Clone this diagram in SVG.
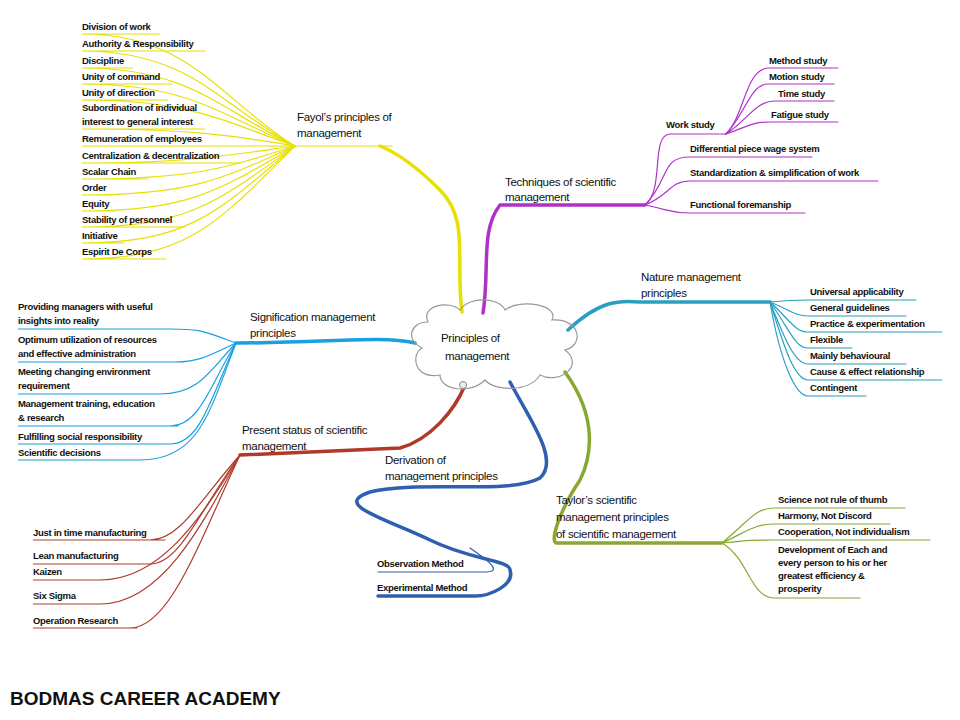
<svg xmlns="http://www.w3.org/2000/svg" width="960" height="720" viewBox="0 0 960 720">
<style>
text{font-family:"Liberation Sans",Arial,sans-serif;font-size:10px;fill:#111;letter-spacing:-0.3px}
.h{font-size:11.5px;font-weight:normal}
.i{font-weight:bold;font-size:9.5px}
path,line{fill:none;stroke-linecap:round}
.y{stroke:#e8e000}.p{stroke:#b030c8}.t{stroke:#2aa0c0}.g{stroke:#88a830}.b{stroke:#2f5fb0}.r{stroke:#b03a2a}.s{stroke:#18a0e0}
.thick{stroke-width:3.5}.thin{stroke-width:1.2}
</style>
<rect width="960" height="720" fill="#fff"/>
<g id="connectors">
<path class="y thick" d="M462,312 C455,260 470,220 440,190 C410,160 390,150 380,146"/>
<path class="y thin" d="M295,146 L392,146"/>
<g class="y thin">
<path d="M295,146 C220,100 190,34 82,34 L160,34"/>
<path d="M295,146 C220,105 190,51 82,51 L205,51"/>
<path d="M295,146 C220,110 190,68 82,68 L132,68"/>
<path d="M295,146 C220,115 190,84 82,84 L172,84"/>
<path d="M295,146 C220,120 190,100 82,100 L168,100"/>
<path d="M295,146 C230,135 190,129 82,129 L205,129"/>
<path d="M295,146 L82,146 L219,146"/>
<path d="M295,146 C230,155 190,163 82,163 L240,163"/>
<path d="M295,146 C220,170 190,179 82,179 L148,179"/>
<path d="M295,146 C220,180 190,195 82,195 L114,195"/>
<path d="M295,146 C220,190 190,211 82,211 L115,211"/>
<path d="M295,146 C220,200 190,227 82,227 L185,227"/>
<path d="M295,146 C220,210 190,243 82,243 L124,243"/>
<path d="M295,146 C220,220 190,259 82,259 L166,259"/>
</g>
<path class="p thick" d="M483,313 C490,270 480,230 500,205 L645,205"/>
<g class="p thin">
<path d="M645,205 C665,190 650,135 670,134 L726,134"/>
<path d="M645,205 C670,180 660,157 690,157 L812,157"/>
<path d="M645,205 C670,195 670,181 690,181 L878,181"/>
<path d="M645,205 C670,210 670,213 690,213 L805,213"/>
<path d="M726,134 C745,115 745,70 768,68 L838,68"/>
<path d="M726,134 C745,115 750,84 768,84 L834,84"/>
<path d="M726,134 C750,118 755,101 776,101 L834,101"/>
<path d="M726,134 C745,128 750,122 770,122 L838,122"/>
</g>
<path class="t thick" d="M568,330 C600,300 620,300 640,302 L770,302"/>
<g class="t thin">
<path d="M770,302 C790,300 795,300 808,300 L916,300"/>
<path d="M770,302 C790,310 795,316 808,316 L906,316"/>
<path d="M770,302 C790,320 795,332 808,332 L942,332"/>
<path d="M770,302 C790,330 795,348 808,348 L852,348"/>
<path d="M770,302 C785,340 795,364 808,364 L906,364"/>
<path d="M770,302 C785,350 795,380 808,380 L942,380"/>
<path d="M770,302 C780,360 795,396 808,396 L866,396"/>
</g>
<path class="g thick" d="M565,372 C600,420 590,460 580,480 C560,510 550,540 556,543 L722,543"/>
<g class="g thin">
<path d="M722,543 C750,520 755,508 775,508 L905,508"/>
<path d="M722,543 C750,530 755,524 775,524 L890,524"/>
<path d="M722,543 C750,540 755,540 775,540 L930,540"/>
<path d="M722,543 C750,560 750,598 775,598 L860,598"/>
</g>
<path class="b thick" d="M510,382 C530,420 560,460 540,478 C510,495 420,480 370,492 C330,505 390,520 430,540 C470,560 510,560 510,570 C515,585 490,596 475,596 L378,596"/>
<path class="b thin" d="M470,548 C495,565 500,572 485,572 L378,572"/>
<path class="r thick" d="M465,385 C455,410 430,440 400,448 L240,455"/>
<g class="r thin">
<path d="M240,455 C200,500 180,540 150,540 L33,540 L165,540"/>
<path d="M240,455 C200,510 180,564 150,564 L33,564 L135,564"/>
<path d="M240,455 C200,520 160,580 100,580 L33,580 L74,580"/>
<path d="M240,455 C200,530 160,604 100,604 L33,604 L86,604"/>
<path d="M240,455 C200,540 170,628 130,628 L33,628 L137,628"/>
</g>
<path class="s thick" d="M415,343 C380,335 330,343 236,343"/>
<g class="s thin">
<path d="M236,343 C200,330 200,329 170,329 L18,329 L170,329"/>
<path d="M236,343 C210,355 200,362 175,362 L18,362 L178,362"/>
<path d="M236,343 C210,370 200,394 160,394 L18,394 L160,394"/>
<path d="M236,343 C210,385 200,426 170,426 L18,426 L178,426"/>
<path d="M236,343 C210,400 200,444 170,444 L18,444 L160,444"/>
<path d="M236,343 C210,410 200,460 140,460 L18,460 L115,460"/>
</g>
</g>
<g id="center">
<path d="M428,322 C420,305 450,300 460,310 C470,295 500,298 505,310 C520,298 560,305 552,320 C580,318 585,345 565,350 C585,365 560,385 540,375 C530,392 495,392 485,380 C470,395 440,390 440,375 C415,380 410,355 422,348 C405,340 410,322 428,322 Z" fill="#f4f4f4" stroke="#999" stroke-width="1.2"/>
<circle cx="463" cy="385" r="3.5" fill="#eee" stroke="#888"/>
<text class="h" x="441" y="342">Principles of</text>
<text class="h" x="445" y="360">management</text>
</g>
<g id="fayol">
<text class="h" x="297" y="121">Fayol’s principles of</text>
<text class="h" x="297" y="137">management</text>
<text class="i" x="82" y="30">Division of work</text>
<text class="i" x="82" y="47">Authority &amp; Responsibility</text>
<text class="i" x="82" y="64">Discipline</text>
<text class="i" x="82" y="80">Unity of command</text>
<text class="i" x="82" y="96">Unity of direction</text>
<text class="i" x="82" y="111">Subordination of individual</text>
<text class="i" x="82" y="125">interest to general interest</text>
<text class="i" x="82" y="142">Remuneration of employees</text>
<text class="i" x="82" y="159">Centralization &amp; decentralization</text>
<text class="i" x="82" y="175">Scalar Chain</text>
<text class="i" x="82" y="191">Order</text>
<text class="i" x="82" y="207">Equity</text>
<text class="i" x="82" y="223">Stability of personnel</text>
<text class="i" x="82" y="239">Initiative</text>
<text class="i" x="82" y="255">Espirit De  Corps</text>
</g>
<g id="techniques">
<text class="h" x="505" y="186">Techniques of scientific</text>
<text class="h" x="505" y="201">management</text>
<text class="i" x="666" y="128">Work study</text>
<text class="i" x="769" y="64">Method study</text>
<text class="i" x="769" y="80">Motion study</text>
<text class="i" x="778" y="97">Time study</text>
<text class="i" x="771" y="118">Fatigue study</text>
<text class="i" x="690" y="152">Differential piece  wage system</text>
<text class="i" x="690" y="176">Standardization &amp; simplification of work</text>
<text class="i" x="690" y="208">Functional foremanship</text>
</g>
<g id="nature">
<text class="h" x="641" y="281">Nature management</text>
<text class="h" x="641" y="297">principles</text>
<text class="i" x="810" y="295">Universal applicability</text>
<text class="i" x="810" y="311">General guidelines</text>
<text class="i" x="810" y="327">Practice &amp; experimentation</text>
<text class="i" x="810" y="343">Flexible</text>
<text class="i" x="810" y="359">Mainly behavioural</text>
<text class="i" x="810" y="375">Cause &amp; effect relationship</text>
<text class="i" x="810" y="391">Contingent</text>
</g>
<g id="taylor">
<text class="h" x="556" y="504">Taylor’s scientific</text>
<text class="h" x="556" y="521">management principles</text>
<text class="h" x="556" y="538">of scientific management</text>
<text class="i" x="778" y="503">Science not rule of thumb</text>
<text class="i" x="778" y="519">Harmony, Not Discord</text>
<text class="i" x="778" y="535">Cooperation, Not  individualism</text>
<text class="i" x="778" y="553">Development of Each and</text>
<text class="i" x="778" y="566">every person to his or her</text>
<text class="i" x="778" y="579">greatest efficiency &amp;</text>
<text class="i" x="778" y="592">prosperity</text>
</g>
<g id="derivation">
<text class="h" x="385" y="464">Derivation  of</text>
<text class="h" x="385" y="480">management principles</text>
<text class="i" x="377" y="567">Observation Method</text>
<text class="i" x="377" y="591">Experimental Method</text>
</g>
<g id="present">
<text class="h" x="242" y="434">Present status of scientific</text>
<text class="h" x="242" y="450">management</text>
<text class="i" x="33" y="536">Just in time manufacturing</text>
<text class="i" x="33" y="559">Lean manufacturing</text>
<text class="i" x="33" y="575">Kaizen</text>
<text class="i" x="33" y="599">Six Sigma</text>
<text class="i" x="33" y="624">Operation Research</text>
</g>
<g id="signification">
<text class="h" x="250" y="321">Signification management</text>
<text class="h" x="250" y="337">principles</text>
<text class="i" x="18" y="310">Providing managers with useful</text>
<text class="i" x="18" y="324">insights  into reality</text>
<text class="i" x="18" y="343">Optimum utilization of resources</text>
<text class="i" x="18" y="357">and effective administration</text>
<text class="i" x="18" y="375">Meeting changing environment</text>
<text class="i" x="18" y="389">requirement</text>
<text class="i" x="18" y="407">Management training, education</text>
<text class="i" x="18" y="421">&amp; research</text>
<text class="i" x="18" y="440">Fulfilling  social responsibility</text>
<text class="i" x="18" y="456">Scientific decisions</text>
</g>
<text x="10" y="705" style="font-size:19px;font-weight:bold;letter-spacing:0">BODMAS CAREER ACADEMY</text>
</svg>
